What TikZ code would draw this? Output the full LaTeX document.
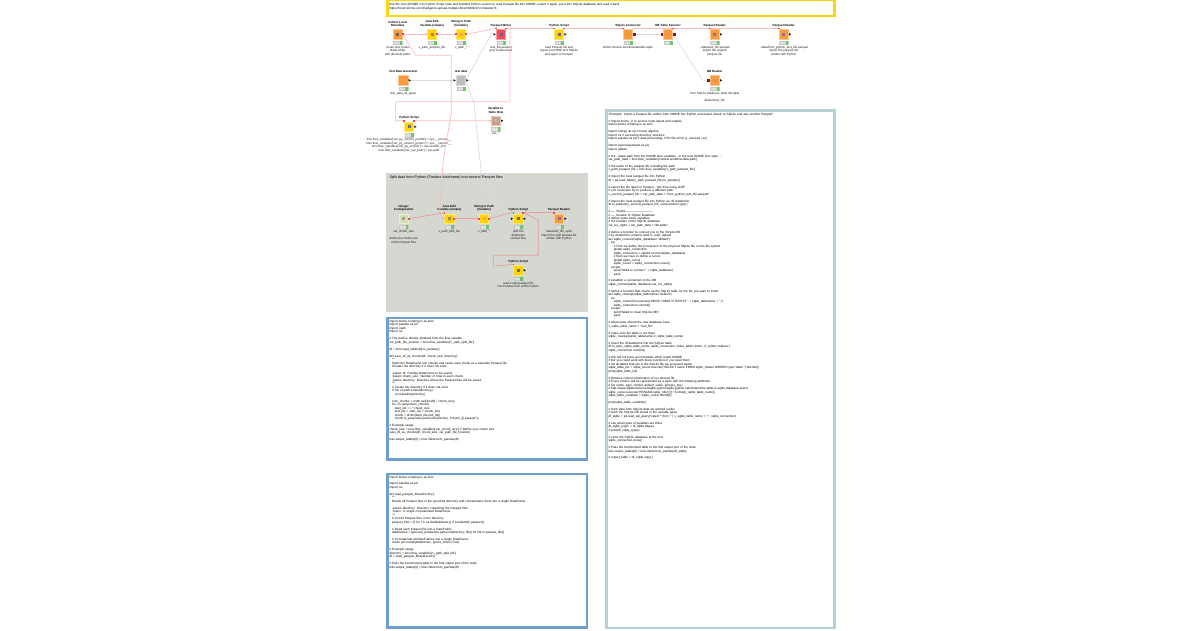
\documentclass[tikz,border=0pt]{standalone}
\usepackage{fontspec}
\setmainfont{Liberation Sans}
\usetikzlibrary{positioning}

\definecolor{flowpink}{HTML}{F9BDBD}
\definecolor{flowdark}{HTML}{E89C9C}
\definecolor{dataline}{HTML}{DADADA}
\definecolor{varred}{HTML}{F4474C}
\definecolor{dbred}{HTML}{8A1238}
\definecolor{iconyellow}{HTML}{FFD400}
\definecolor{iconorange}{HTML}{FB9A3C}
\definecolor{iconred}{HTML}{F24C52}
\definecolor{icongray}{HTML}{BEBEBE}
\definecolor{icontan}{HTML}{C9A083}
\definecolor{icongreen}{HTML}{D5DEB4}
\definecolor{splitgray}{HTML}{D5D8D1}
\definecolor{notegold}{HTML}{FFD60A}
\definecolor{codeblue}{HTML}{709ECF}
\definecolor{codeteal}{HTML}{B5D0D6}

\newcommand{\ind}{\hspace*{2.7pt}}
\newcommand{\indd}{\hspace*{5.4pt}}
\newcommand{\knode}[5]{%
  \node[knimeicon,fill=#4,draw=#4!55] (#1) at (#2,#3) {};
  \fill[#5,opacity=0.75] (#1.center) +(-1.5,-1.5) rectangle +(1.5,1.5);
  \node[statusbar] (#1-st) at ([yshift=-8.4pt]#1.center) {};
  \fill[green!45!gray!80] ([xshift=-2.6pt]#1-st.north east) rectangle (#1-st.south east);
  \coordinate (#1-l) at ([yshift=1pt]#1.north west);
  \coordinate (#1-r) at ([yshift=1pt]#1.north east);
}

\begin{document}
\begin{tikzpicture}[x=1pt,y=-1pt,
    knimeicon/.style={minimum size=9.3pt,inner sep=0pt,line width=0.5pt},
    statusbar/.style={minimum width=8.7pt,minimum height=3.4pt,inner sep=0pt,fill=black!12,draw=black!22,line width=0.3pt},
    nodetitle/.style={font=\fontsize{3}{3.45}\selectfont\bfseries,align=center,inner sep=0pt,above=2.4pt of #1},
    nodenote/.style={font=\fontsize{3}{3.45}\selectfont,text=black!90,align=center,inner sep=0pt,below=1.6pt of #1},
    codetext/.style={font=\fontsize{3.07}{3.47}\selectfont,align=left,anchor=north west,inner sep=0pt},
    textbox/.style={line width=2.6pt,fill=white},
    flowline/.style={color=flowpink,line width=0.7pt},
    flowbox/.style={color=flowdark,line width=0.7pt},
    dataedge/.style={color=dataline,line width=0.6pt}]
  \useasboundingbox (0,0) rectangle (1200,630);
  \fill[white] (0,0) rectangle (1200,630);

  % note on top
  \draw[textbox,draw=notegold] (387.3,0) rectangle (834.7,16);
  \node[codetext,text width=440pt] (topnote) at (389,3.2) {Use the new (KNIME 4.6) Python Script node and bundled Python version to read Parquet file into KNIME, export it again, put it into SQLite database and read it back\\https://forum.knime.com/t/widget-to-upload-multiple-files/34969/4?u=mlauber71};

  % split section
  \fill[splitgray] (386,173.3) rectangle (588.3,311.7);
  \node[codetext,font=\fontsize{3.75}{4.2}\selectfont] (splittitle) at (389.3,175.3) {Split data from Python (Pandas dataframe) into several Parquet files};

  % upper row
  \knode{meta}{397.7}{34.3}{iconorange}{black!70}
  \knode{javea}{432}{34.3}{iconyellow}{black!55}
  \knode{strpa}{461}{34.3}{iconyellow}{brown!70}
  \knode{pwrite}{501}{34.3}{iconred}{blue!30!gray}
  \knode{pya}{559}{34.3}{iconyellow}{blue!50!gray}
  \knode{sqlcon}{628}{34.3}{iconorange}{brown!80}
  \knode{dbsel}{668}{34.3}{iconorange}{brown!80}
  \knode{preada}{714.7}{34.3}{iconorange}{blue!20!gray}
  \knode{preadb}{783.7}{34.3}{iconorange}{blue!20!gray}
  \knode{dbread}{714.7}{80.3}{iconorange}{brown!80}
  \knode{tdgen}{403.3}{80.3}{iconorange}{iconorange}
  \knode{tdata}{461}{80.3}{icongray}{icongray}
  \knode{pyb}{409}{126.7}{iconyellow}{blue!50!gray}
  \knode{varrow}{495.7}{120.7}{icontan}{white!75!black}

  \node[nodetitle=meta] (meta-t) {Collect Local\\Metadata};
  \node[nodetitle=javea] (javea-t) {Java Edit\\Variable (simple)};
  \node[nodetitle=strpa] (strpa-t) {String to Path\\(Variable)};
  \node[nodetitle=pwrite] (pwrite-t) {Parquet Writer};
  \node[nodetitle=pya] (pya-t) {Python Script};
  \node[nodetitle=sqlcon] (sqlcon-t) {SQLite Connector};
  \node[nodetitle=dbsel] (dbsel-t) {DB Table Selector};
  \node[nodetitle=preada] (preada-t) {Parquet Reader};
  \node[nodetitle=preadb] (preadb-t) {Parquet Reader};
  \node[nodetitle=dbread] (dbread-t) {DB Reader};
  \node[nodetitle=tdgen] (tdgen-t) {Test Data Generator};
  \node[nodetitle=tdata] (tdata-t) {test data};
  \node[nodetitle=pyb] (pyb-t) {Python Script};
  \node[nodetitle=varrow] (varrow-t) {Variable to\\Table Row};

  \node[nodenote=meta-st] (meta-n) {locate and create\\/data/ folder\\with absolute paths};
  \node[nodenote=javea-st] (javea-n) {v\_path\_parquet\_file};
  \node[nodenote=strpa-st] (strpa-n) {v\_path\_*};
  \node[nodenote=pwrite-st] (pwrite-n) {test\_file.parquet\\gzip compressed};
  \node[nodenote=pya-st] (pya-n) {read Parquet file and\\export to KNIME and SQLite\\and again to Parquet};
  \node[nodenote=sqlcon-st] (sqlcon-n) {knime://knime.workflow/data/db.sqlite};
  \node[nodenote=preada-st] (preada-n) {../data/test\_file.parquet\\import the original\\parquet file};
  \node[nodenote=preadb-st] (preadb-n) {../data/from\_python\_test\_file.parquet\\import the parquet file\\written with Python};
  \node[nodenote=dbread-st] (dbread-n) {from SQLite database, table db.sqlite\\[3.4pt]default.test\_file};
  \node[nodenote=tdgen-st] (tdgen-n) {test\_data\_all\_types};
  \node[nodenote=pyb-st] (pyb-n) {knio.flow\_variables['var\_py\_version\_purelib'] = sys.\_\_version\_\_\\knio.flow\_variables['var\_py\_version\_pyvenv'] = sys.\_\_version\_\_\\knio.flow\_variables['var\_py\_version'] = sys.version\_info\\knio.flow\_variables['var\_sys\_path'] = sys.path};
  \node[nodenote=varrow-st] (varrow-n) {var\_*};

  % nodes in the split section
  \knode{intcfg}{403.7}{218.7}{icongreen}{black!45}
  \knode{javeb}{449.3}{218.7}{iconyellow}{black!55}
  \knode{strpb}{484}{218.7}{iconyellow}{brown!70}
  \knode{pyc}{518.3}{218.7}{iconyellow}{blue!50!gray}
  \knode{preadc}{559}{218.7}{iconorange}{blue!20!gray}
  \knode{pyd}{518.3}{270.3}{iconyellow}{blue!50!gray}

  \node[nodetitle=intcfg] (intcfg-t) {Integer\\Configuration};
  \node[nodetitle=javeb] (javeb-t) {Java Edit\\Variable (simple)};
  \node[nodetitle=strpb] (strpb-t) {String to Path\\(Variable)};
  \node[nodetitle=pyc] (pyc-t) {Python Script};
  \node[nodetitle=preadc] (preadc-t) {Parquet Reader};
  \node[nodetitle=pyd] (pyd-t) {Python Script};

  \node[nodenote=intcfg-st] (intcfg-n) {var\_chunk\_size\\[3.4pt]define the chunk size\\of the Parquet files};
  \node[nodenote=javeb-st] (javeb-n) {v\_path\_split\_file};
  \node[nodenote=strpb-st] (strpb-n) {v\_path\_*};
  \node[nodenote=pyc-st] (pyc-n) {split the\\dataframe\\several files};
  \node[nodenote=preadc-st] (preadc-n) {/data/test\_file\_split/\\import the split parquet file\\written with Python};
  \node[nodenote=pyd-st] (pyd-n) {read a split parquet file\\into Pandas from within Python};

  % grey data lines
  \draw[dataedge] (tdgen.east) -- (tdata.west);
  \draw[dataedge] (tdata.east) -- (491.7,33.3) -- (pwrite.west);
  \draw[dataedge] (tdata.east) -- (474,103) -- (481,170) -- (481,180) -- (508,217) -- (pyc.west);
  \draw[dataedge] (sqlcon.east) -- (dbsel.west);
  \draw[dataedge] (dbsel.east) -- (703,80.3) -- (dbread.west);

  % flow variable lines
  \draw[flowline] (meta.east) -- (javea.west);
  \draw[flowline] (javea.east) -- (strpa.west);
  \draw[flowline] (strpa.east) -- (pwrite-l);
  \draw[flowline] (pwrite-r) -- (pya-l);
  \draw[flowline] (pya-r) -- (sqlcon-l);
  \draw[flowline] (sqlcon-r) -- (dbsel-r);
  \draw[flowline] (dbsel-r) -- (preada-l);
  \draw[flowline] (preada-l) -- (preadb-l);
  \draw[flowline] (pwrite-r) -- (510,28.3) -- (510,101.7) -- (395.7,101.7) -- (395.7,120.7) -- (pyb-l);
  \draw[flowline] (pyb-r) -- (varrow.west);
  \draw[flowline] (meta.east) -- (415.7,55.3) -- (451.3,55.3) -- (451.3,113) -- (443.3,160) -- (439.5,213) -- (javeb.west);

  \draw[flowbox] (intcfg.east) -- (javeb-l);
  \draw[flowbox] (javeb.east) -- (strpb.west);
  \draw[flowbox] (strpb.east) -- (510,213) -- (pyc-l);
  \draw[flowbox] (pyc-r) -- (preadc-l);
  \draw[flowbox] (pyc-r) -- (538.3,220) -- (538.3,255.3) -- (493.3,255.3) -- (493.3,266) -- (pyd-l);

  % ports
  \foreach \p in {meta.east,javea.east,strpa.west,strpa.east,pwrite-l,pwrite-r,pya-l,pya-r,sqlcon-l,dbsel-r,preada-l,preadb-l,pyb-l,pyb-r,intcfg.east,javeb-l,javeb.east,strpb.west,strpb.east,pyc-l,pyc-r,preadc-l,pyd-l}
    \fill[varred] (\p) +(-0.9,-0.9) rectangle +(0.9,0.9);
  \foreach \p in {javea.west,javeb.west,varrow.west}
    \filldraw[fill=white,draw=flowdark,line width=0.3pt] ([xshift=-0.9pt]\p) circle (0.9);
  \foreach \p in {tdgen.east,tdata.east,preada.east,preadb.east,dbread.east,varrow.east,pyb.east,pya.east,pyc.east,pyd.east,preadc.east}
    \fill[black] (\p) +(0.4,-1.2) -- +(2.6,0) -- +(0.4,1.2) -- cycle;
  \foreach \p in {tdata.west,pwrite.west,pyc.west}
    \fill[black] (\p) +(-2.6,-1.2) -- +(-0.4,0) -- +(-2.6,1.2) -- cycle;
  \foreach \p in {sqlcon.east,dbsel.east}
    \fill[dbred] (\p) +(0,-1.4) rectangle +(2.6,1.4);
  \foreach \p in {dbsel.west,dbread.west}
    \fill[dbred] (\p) +(-2.6,-1.4) rectangle +(0,1.4);

  % code of the first script
  \draw[textbox,draw=codeblue] (387.3,318) rectangle (587,459.7);
  \node[codetext,text width=195pt] (codesplit) at (389.3,320) {import knime.scripting.io as knio\\
import pandas as pd\\
import math\\
import os\\
~\\
\# The path is directly obtained from the flow variable\\
var\_path\_file\_location = knio.flow\_variables['v\_path\_split\_file']\\
~\\
df = knio.input\_tables[0].to\_pandas()\\
~\\
def save\_df\_as\_chunks(df, chunk\_size, directory):\\
\ind"""\\
\ind Splits the DataFrame into chunks and saves each chunk as a separate Parquet file.\\
\ind Creates the directory if it does not exist.\\
~\\
\ind :param df: Pandas DataFrame to be saved.\\
\ind :param chunk\_size: Number of rows in each chunk.\\
\ind :param directory: Directory where the Parquet files will be saved.\\
\ind"""\\
\ind \# Create the directory if it does not exist\\
\ind if not os.path.exists(directory):\\
\indd os.makedirs(directory)\\
~\\
\ind num\_chunks = math.ceil(len(df) / chunk\_size)\\
\ind for i in range(num\_chunks):\\
\indd start\_idx = i * chunk\_size\\
\indd end\_idx = start\_idx + chunk\_size\\
\indd chunk = df.iloc[start\_idx:end\_idx]\\
\indd chunk.to\_parquet(os.path.join(directory, f"chunk\_\{i\}.parquet"))\\
~\\
\# Example usage\\
chunk\_size = knio.flow\_variables['var\_chunk\_size'] \# Define your chunk size\\
save\_df\_as\_chunks(df, chunk\_size, var\_path\_file\_location)\\
~\\
knio.output\_tables[0] = knio.Table.from\_pandas(df)};

  % code of the second script
  \draw[textbox,draw=codeblue] (387.3,474) rectangle (587,627.4);
  \node[codetext,text width=195pt] (coderead) at (389.3,475.6) {import knime.scripting.io as knio\\
~\\
import pandas as pd\\
import os\\
~\\
def read\_parquet\_files(directory):\\
\ind"""\\
\ind Reads all Parquet files in the specified directory and concatenates them into a single DataFrame.\\
~\\
\ind :param directory: Directory containing the Parquet files.\\
\ind :return: A single concatenated DataFrame.\\
\ind"""\\
\ind \# List all Parquet files in the directory\\
\ind parquet\_files = {[}f for f in os.listdir(directory) if f.endswith('.parquet')]\\
~\\
\ind \# Read each Parquet file into a DataFrame\\
\ind dataframes = {[}pd.read\_parquet(os.path.join(directory, file)) for file in parquet\_files]\\
~\\
\ind \# Concatenate all DataFrames into a single DataFrame\\
\ind return pd.concat(dataframes, ignore\_index=True)\\
~\\
\# Example usage\\
directory = knio.flow\_variables['v\_path\_split\_file']\\
df = read\_parquet\_files(directory)\\
~\\
\# Pass the transformed table to the first output port of the node\\
knio.output\_tables[0] = knio.Table.from\_pandas(df)};

  % code of the main script
  \draw[textbox,draw=codeteal] (606.3,110.3) rectangle (834.7,628);
  \node[codetext,text width=224pt] (codemain) at (608.3,113) {"Example: import a Parquet file written from KNIME into Python and export it back to SQLite and also another Parquet"\\
~\\
\# Import knime\_io to access node inputs and outputs.\\
import knime.scripting.io as knio\\
~\\
import numpy as np \# linear algebra\\
import os \# accessing directory structure\\
import pandas as pd \# data processing, CSV file I/O (e.g. pd.read\_csv)\\
~\\
import pyarrow.parquet as pq\\
import sqlite3\\
~\\
\# the ../data/ path from the KNIME flow variables - in the new KNIME knio style ....\\
var\_path\_data = knio.flow\_variables['context.workflow.data-path']\\
~\\
\# the name of the parquet file including the path\\
v\_path\_parquet\_file = knio.flow\_variables['v\_path\_parquet\_file']\\
~\\
\# import the local parquet file into Python\\
df = pq.read\_table(v\_path\_parquet\_file).to\_pandas()\\
~\\
\# export the file again to Parquet - this time using GZIP\\
\# you could also try to produce a different path\\
v\_second\_parquet\_file = var\_path\_data + "from\_python\_test\_file.parquet"\\
~\\
\# import the local parquet file into Python as 'df' dataframe\\
df.to\_parquet(v\_second\_parquet\_file, compression='gzip')\\
~\\
\# ---- SQLite --------------------------\\
\# ---- location of SQLite Database\\
\# define some basic variables\\
\# the location of the SQLite database\\
var\_loc\_sqlite = var\_path\_data + "db.sqlite"\\
~\\
\# define a function to connect you to the SQLite DB\\
\# by default the schema used is -well- default\\
def sqlite\_connect(sqlite\_database="default"):\\
\ind try:\\
\indd \# First we define the Connection to the physical SQLite file on the file system\\
\indd global sqlite\_connection\\
\indd sqlite\_connection = sqlite3.connect(sqlite\_database)\\
\indd \# then we have to define a cursor\\
\indd global sqlite\_cursor\\
\indd sqlite\_cursor = sqlite\_connection.cursor()\\
\ind except:\\
\indd print("failed to connect " + sqlite\_database)\\
\indd pass\\
~\\
\# establish a connection to the DB\\
sqlite\_connect(sqlite\_database=var\_loc\_sqlite)\\
~\\
\# define a function that cleans up the SQLite table for the file you want to insert\\
def sqlite\_cleanup(sqlite\_tablename="default"):\\
\ind try:\\
\indd sqlite\_connection.execute("DROP TABLE IF EXISTS " + sqlite\_tablename + ";")\\
\indd sqlite\_connection.commit()\\
\ind except:\\
\indd print("failed to clean SQLite DB")\\
\indd pass\\
~\\
\# what name should the new database have\\
v\_sqlite\_table\_name = "test\_file"\\
~\\
\# make sure the table is not there\\
sqlite\_cleanup(sqlite\_tablename=v\_sqlite\_table\_name)\\
~\\
\# insert the df dataframe into the SQLite table\\
df.to\_sql(v\_sqlite\_table\_name, sqlite\_connection, index\_label='index', if\_exists='replace')\\
sqlite\_connection.commit()\\
~\\
\# this will not have an immediate effect under KNIME\\
\# but you could work with these functions if you need them\\
\# list all tables that are in the SQLite file we accessed earlier\\
sqlite\_table\_list = sqlite\_cursor.execute("SELECT name FROM sqlite\_master WHERE type='table';").fetchall()\\
print(sqlite\_table\_list)\\
~\\
\# Retrieve column information of our desired file\\
\# Every column will be represented by a tuple with the following attributes:\\
\# (id, name, type, notnull, default\_value, primary\_key)\\
\# http://www.sqlitetutorial.net/sqlite-python/sqlite-python-select/describe-table-in-sqlite-database-select\\
sqlite\_cursor.execute("PRAGMA table\_info('\{\}');".format(v\_sqlite\_table\_name))\\
sqlite\_table\_variables = sqlite\_cursor.fetchall()\\
~\\
print(sqlite\_table\_variables)\\
~\\
\# fetch data from SQLite data we worked earlier\\
\# fetch the SQLite DB stored in the variable types\\
df\_sqlite = pd.read\_sql\_query("select * from " + v\_sqlite\_table\_name + ";", sqlite\_connection)\\
~\\
\# see what types of variables are there\\
df\_sqlite\_types = df\_sqlite.dtypes\\
\# print(df\_sqlite\_types)\\
~\\
\# close the SQLite database at the end\\
sqlite\_connection.close()\\
~\\
\# Pass the transformed table to the first output port of the node\\
knio.output\_tables[0] = knio.Table.from\_pandas(df\_sqlite)\\
~\\
\# output\_table = df\_sqlite.copy()};
\end{tikzpicture}
\end{document}
